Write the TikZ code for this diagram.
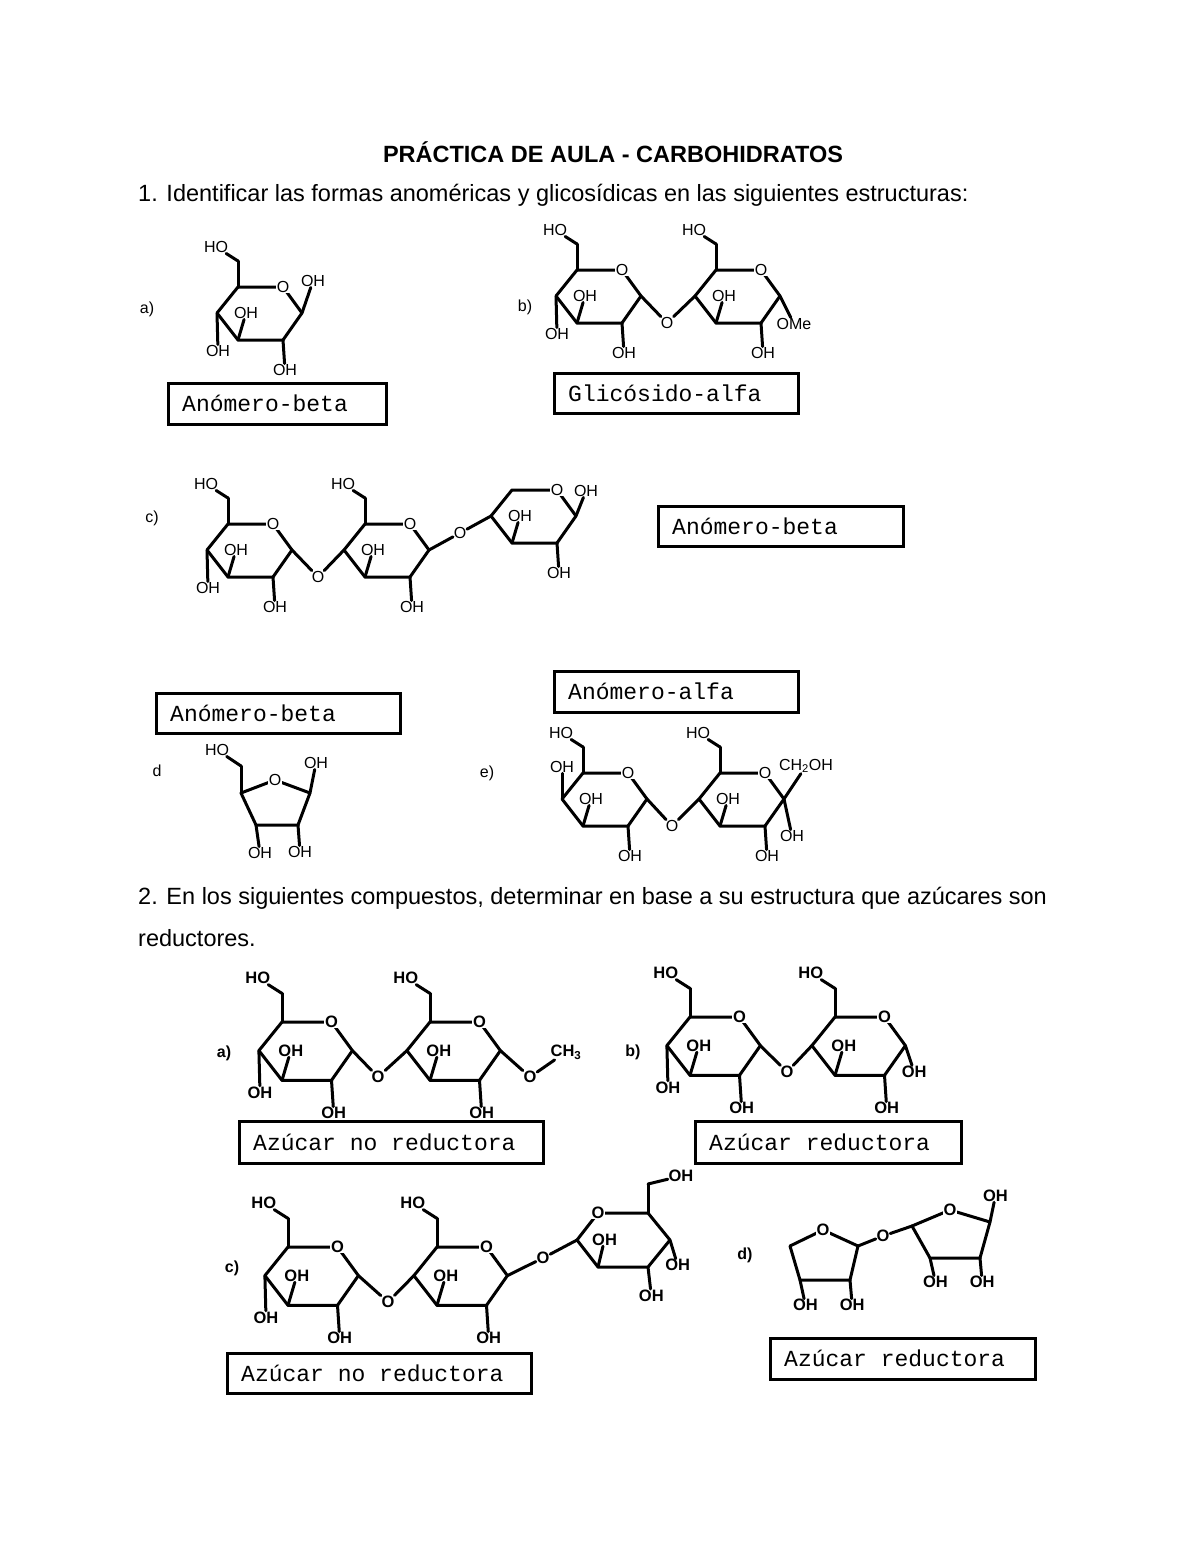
\documentclass[tikz,border=0pt]{standalone}
\usepackage{fontspec}
\setmainfont{Liberation Sans}
\newfontfamily\monof{Liberation Mono}
\usetikzlibrary{calc}
\def\sc{1}
\tikzset{
 bond/.style={line width=3,line join=round,line cap=round},
 lab/.style={font=\fontsize{16}{16}\selectfont, inner sep=0.6, fill=white},
 boxed/.style={draw,line width=2.5,anchor=north west,inner sep=0},
 boxtxt/.style={anchor=west,font=\monof\fontsize{23}{23}\selectfont,inner sep=0},
 tag/.style={font=\fontsize{16}{16}\selectfont},
 body/.style={anchor=west,font=\fontsize{23.5}{23.5}\selectfont,inner sep=0}
}
\newcommand\pyr[4]{%
 \begin{scope}[shift={(#2,#3)},scale=#4]
 \coordinate (#1c5) at (0,0); \coordinate (#1o) at (45,0); \coordinate (#1c1) at (64,26);
 \coordinate (#1c2) at (45,53); \coordinate (#1c3) at (0,53); \coordinate (#1c4) at (-21,26);
 \end{scope}
 \draw[bond] (#1c5)--(#1o)--(#1c1)--(#1c2)--(#1c3)--(#1c4)--cycle;
 \node[lab] (#1O) at (#1o) {O};}
\newcommand\sub[5]{\node[lab] (#5) at ($(#1)+\sc*(#2,#3)$) {#4}; \draw[bond] (#1) -- (#5);}
\newcommand\stdsub[1]{\coordinate (#1ch) at ($(#1c5)+\sc*(0,-26)$); \draw[bond] (#1c5)--(#1ch);
 \sub{#1ch}{-22}{-14}{HO}{#1HO}}
\newcommand\subfour[1]{\sub{#1c4}{1}{38}{OH}{#1O4}}
\newcommand\subthree[1]{\sub{#1c3}{8}{-27}{OH}{#1O3}}
\newcommand\subtwo[1]{\sub{#1c2}{2}{30}{OH}{#1O2}}
\newcommand\answer[6]{\node[boxed,minimum width=#4,minimum height=#5] (#1) at (#2,#3) {};
 \node[boxtxt] (#1t) at ($(#1.west)+(15,0)$) {#6};}
\begin{document}
\begin{tikzpicture}[x=1pt,y=-1pt]
\useasboundingbox[fill=white] (0,0) rectangle (1200,1553);
\node[font=\bfseries\fontsize{23.5}{23.5}\selectfont] (title) at (613,152) {PRÁCTICA DE AULA - CARBOHIDRATOS};
\node[body] (q1) at (138,195) {1. Identificar las formas anoméricas y glicosídicas en las siguientes estructuras:};
% a
\node[tag] (la) at (147,309) {a)};
\pyr{a}{238}{287}{1} \stdsub{a}\subfour{a}\subthree{a}\subtwo{a}
\sub{ac1}{11}{-32}{OH}{aO1}
\answer{ba}{167}{382}{218}{41}{Anómero-beta}
% b
\node[tag] (lb) at (525,307) {b)};
\pyr{ba1}{577}{270}{1} \stdsub{ba1}\subfour{ba1}\subthree{ba1}\subtwo{ba1}
\pyr{ba2}{716}{270}{1} \stdsub{ba2}\subthree{ba2}\subtwo{ba2}
\node[lab] (bg) at (667,323) {O}; \draw[bond] (ba1c1)--(bg)--(ba2c4);
\sub{ba2c1}{14}{28}{OMe}{bOMe}
\answer{bb}{553}{372}{244}{40}{Glicósido-alfa}
% c
\node[tag] (lc) at (152,518) {c)};
\pyr{c1}{228}{524}{1} \stdsub{c1}\subfour{c1}\subthree{c1}\subtwo{c1}
\pyr{c2}{365}{524}{1} \stdsub{c2}\subthree{c2}\subtwo{c2}
\pyr{c3}{512}{490}{1} \subthree{c3}\subtwo{c3}
\sub{c3c1}{10}{-25}{OH}{c3O1}
\node[lab] (cg1) at (318,577) {O}; \draw[bond] (c1c1)--(cg1)--(c2c4);
\node[lab] (cg2) at (460,533) {O}; \draw[bond] (c2c1)--(cg2)--(c3c4);
\answer{bc}{657}{505}{245}{40}{Anómero-beta}
% d
\node[tag] (ld) at (157,771) {d};
\coordinate (dc4) at (241,793); \coordinate (dc1) at (310,793);
\coordinate (dc2) at (298,825); \coordinate (dc3) at (256,825); \coordinate (do) at (275,780);
\draw[bond] (dc4)--(do)--(dc1)--(dc2)--(dc3)--cycle;
\node[lab] (dO) at (do) {O};
\coordinate (dch) at (241,766); \draw[bond] (dc4)--(dch);
\sub{dch}{-24}{-16}{HO}{dHO}
\sub{dc1}{6}{-30}{OH}{dO1}
\sub{dc3}{4}{28}{OH}{dO3}
\sub{dc2}{2}{27}{OH}{dO2}
\answer{bd}{155}{692}{244}{40}{Anómero-beta}
% e
\node[tag] (le) at (487,773) {e)};
\pyr{e1}{583}{773}{1} \stdsub{e1}\subthree{e1}\subtwo{e1}
\sub{e1c4}{0}{-32}{OH}{e1O4}
\pyr{e2}{720}{773}{1} \stdsub{e2}\subthree{e2}\subtwo{e2}
\node[lab] (eg) at (672,826) {O}; \draw[bond] (e1c1)--(eg)--(e2c4);
\sub{e2c1}{22}{-33}{CH\textsubscript{2}OH}{eCH}
\sub{e2c1}{8}{37}{OH}{eO1}
\answer{be}{553}{670}{244}{41}{Anómero-alfa}
% part 2
\node[body] (q2) at (138,898) {2. En los siguientes compuestos, determinar en base a su estructura que azúcares son};
\node[body] (q2b) at (138,938) {reductores.};
\def\sc{1.1}
\tikzset{lab/.append style={font=\bfseries\fontsize{16.5}{16.5}\selectfont}, tag/.append style={font=\bfseries\fontsize{16}{16}\selectfont}}
% 2a
\node[tag] (l2a) at (224,1053) {a)};
\pyr{p1}{282}{1022}{1.1} \stdsub{p1}\subfour{p1}\subthree{p1}\subtwo{p1}
\pyr{p2}{430}{1022}{1.1} \stdsub{p2}\subthree{p2}\subtwo{p2}
\node[lab] (pg) at (378,1077) {O}; \draw[bond] (p1c1)--(pg)--(p2c4);
\node[lab] (pg2) at (530,1077) {O}; \node[lab] (pme) at (566,1052) {CH\textsubscript{3}};
\draw[bond] (p2c1)--(pg2)--(pme);
\answer{b2a}{238}{1120}{304}{42}{Azúcar no reductora}
% 2b
\node[tag] (l2b) at (633,1052) {b)};
\pyr{q1r}{690}{1017}{1.1} \stdsub{q1r}\subfour{q1r}\subthree{q1r}\subtwo{q1r}
\pyr{q2r}{835}{1017}{1.1} \stdsub{q2r}\subthree{q2r}\subtwo{q2r}
\node[lab] (qg) at (787,1072) {O}; \draw[bond] (q1rc1)--(qg)--(q2rc4);
\sub{q2rc1}{8}{24}{OH}{qO1}
\answer{b2b}{694}{1120}{266}{42}{Azúcar reductora}
% 2c
\node[tag] (l2c) at (232,1268) {c)};
\pyr{r1}{288}{1247}{1.1} \stdsub{r1}\subfour{r1}\subthree{r1}\subtwo{r1}
\pyr{r2}{437}{1247}{1.1} \stdsub{r2}\subthree{r2}\subtwo{r2}
\node[lab] (rg1) at (388,1302) {O}; \draw[bond] (r1c1)--(rg1)--(r2c4);
\coordinate (r3c5) at (648,1213); \coordinate (r3c4) at (670,1240); \coordinate (r3c3) at (648,1267);
\coordinate (r3c2) at (598,1267); \coordinate (r3c1) at (577,1240); \coordinate (r3o) at (598,1213);
\draw[bond] (r3o)--(r3c5)--(r3c4)--(r3c3)--(r3c2)--(r3c1)--cycle;
\node[lab] (r3O) at (r3o) {O};
\node[lab] (rg2) at (543,1258) {O}; \draw[bond] (r2c1)--(rg2)--(r3c1);
\coordinate (r3ch) at (648,1184); \draw[bond] (r3c5)--(r3ch);
\node[lab] (r3OH6) at (681,1176) {OH}; \draw[bond] (r3ch)--(r3OH6);
\sub{r3c4}{7}{23}{OH}{r3O4}
\sub{r3c3}{3}{26}{OH}{r3O3}
\sub{r3c2}{6}{-25}{OH}{r3O2}
\answer{b2c}{226}{1352}{304}{40}{Azúcar no reductora}
% 2d
\node[tag] (l2d) at (745,1255) {d)};
\coordinate (s4) at (790,1246); \coordinate (so) at (823,1230); \coordinate (s1) at (858,1246);
\coordinate (s2) at (850,1280); \coordinate (s3) at (800,1280);
\draw[bond] (s4)--(so)--(s1)--(s2)--(s3)--cycle; \node[lab] (sO) at (so) {O};
\sub{s3}{5}{23}{OH}{sO3} \sub{s2}{2}{23}{OH}{sO2}
\coordinate (t4) at (912,1226); \coordinate (to) at (950,1210); \coordinate (t1) at (990,1222);
\coordinate (t2) at (980,1258); \coordinate (t3) at (930,1258);
\draw[bond] (t4)--(to)--(t1)--(t2)--(t3)--cycle; \node[lab] (tO) at (to) {O};
\node[lab] (sg) at (883,1236) {O}; \draw[bond] (s1)--(sg)--(t4);
\sub{t1}{5}{-24}{OH}{tO1} \sub{t3}{5}{22}{OH}{tO3} \sub{t2}{2}{22}{OH}{tO2}
\answer{b2d}{769}{1337}{265}{41}{Azúcar reductora}
\end{tikzpicture}
\end{document}
